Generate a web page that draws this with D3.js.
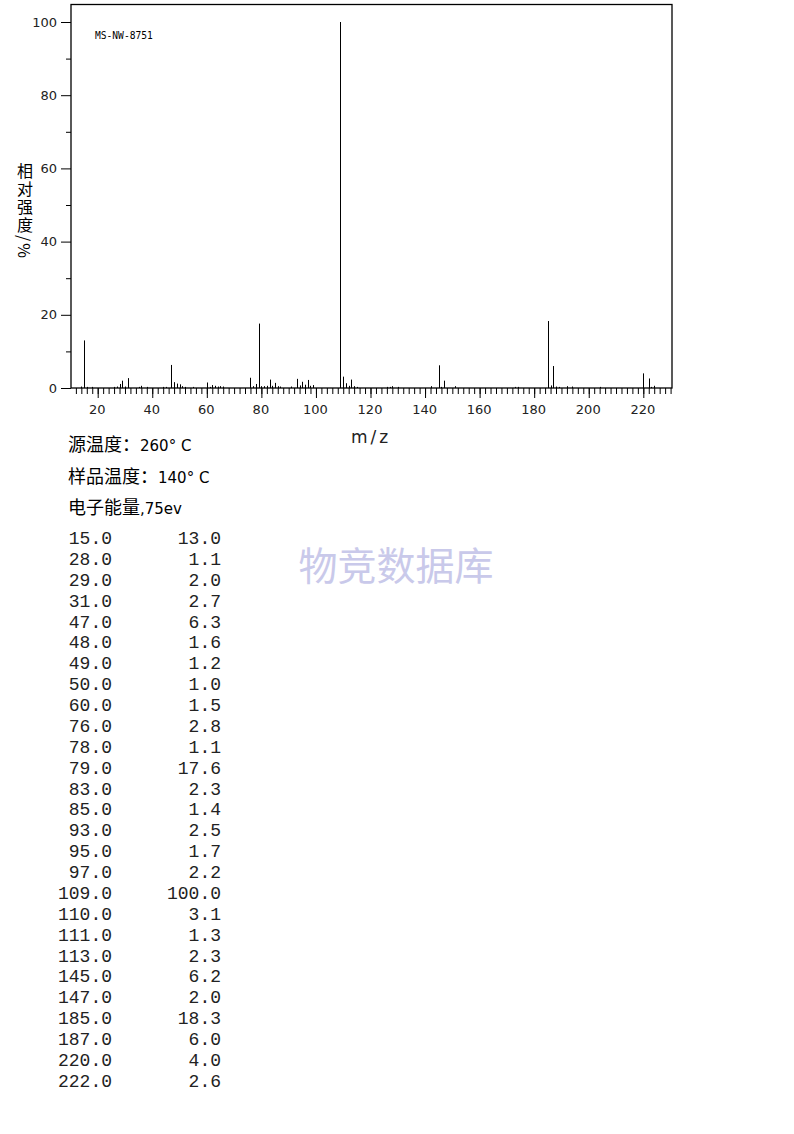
<!DOCTYPE html>
<html><head><meta charset="utf-8">
<script src="https://cdn.jsdelivr.net/npm/d3@7"></script>
<style>
body{margin:0;background:#fff;}
svg{display:block;}
</style></head>
<body>
<script>
// Spectrum peaks (m/z and relative intensity %)
const peakMz  = [14,15,16,18,26,27,28,29,30,31,35,36,38,44,45,47,48,49,50,51,52,55,60,61,62,63,64,65,66,
  76,77,78,79,80,81,82,83,84,85,86,87,91,93,94,95,96,97,98,99,
  109,110,111,112,113,114,115,126,127,128,130,142,145,146,147,151,173,174,
  185,186,187,188,189,192,194,204,220,222,223,224];
const peakInt = [0.4,13.0,0.3,0.3,0.3,0.4,1.1,2.0,0.4,2.7,0.3,0.6,0.3,0.3,0.3,6.3,1.6,1.2,1.0,0.5,0.3,0.3,1.5,0.3,0.8,0.6,0.4,0.5,0.4,
  2.8,0.5,1.1,17.6,0.5,0.5,0.6,2.3,0.6,1.4,0.5,0.4,0.4,2.5,0.7,1.7,0.9,2.2,0.6,0.8,
  100.0,3.1,1.3,0.6,2.3,0.5,0.3,0.3,0.3,0.5,0.3,0.5,6.2,0.3,2.0,0.5,0.3,0.3,
  18.3,0.7,6.0,0.4,0.3,0.5,0.4,0.3,4.0,2.6,0.3,0.6];

// Listed peaks table
const tableMz  = ["15.0","28.0","29.0","31.0","47.0","48.0","49.0","50.0","60.0","76.0","78.0","79.0","83.0","85.0",
  "93.0","95.0","97.0","109.0","110.0","111.0","113.0","145.0","147.0","185.0","187.0","220.0","222.0"];
const tableInt = ["13.0","1.1","2.0","2.7","6.3","1.6","1.2","1.0","1.5","2.8","1.1","17.6","2.3","1.4",
  "2.5","1.7","2.2","100.0","3.1","1.3","2.3","6.2","2.0","18.3","6.0","4.0","2.6"];

const xMajorTicks = [20,40,60,80,100,120,140,160,180,200,220];
const yMajorTicks = [0,20,40,60,80,100];
const yMinorTicks = [10,30,50,70,90];
// info lines: [CJK prefix, Latin suffix]
const infoLines = [["源温度：","260° C"],["样品温度：","140° C"],["电子能量",",75ev"]];
const sampleId = "MS-NW-8751";
const yLabel = "相对强度/%";
const xLabel = "m/z";
const watermark = "物竞数据库";

const W=794,H=1134;
const svg=d3.select("body").append("svg").attr("width",W).attr("height",H);

const L=71,R=672,T=4.5,B=388;
const x=d3.scaleLinear().domain([20,220]).range([97.7,643.3]);
const y=d3.scaleLinear().domain([0,100]).range([B,22]);

// watermark
svg.append("text").attr("x",396).attr("y",580).attr("text-anchor","middle")
  .attr("font-family","'Noto Sans CJK SC'").attr("font-size",39).attr("fill","#c9c9ea")
  .text(watermark);

// frame
svg.append("rect").attr("x",L).attr("y",T).attr("width",R-L).attr("height",B-T)
  .attr("fill","none").attr("stroke","#000").attr("stroke-width",1.3);

// x axis
const gxMinor=svg.append("g").attr("transform",`translate(0,${B})`)
  .call(d3.axisBottom(x).tickValues(d3.range(12,231,2)).tickSize(6).tickFormat(""));
const gx=svg.append("g").attr("transform",`translate(0,${B})`)
  .call(d3.axisBottom(x).tickValues(xMajorTicks).tickSize(10).tickPadding(7));
[gxMinor,gx].forEach(g=>{g.select(".domain").remove();g.selectAll("line").attr("stroke","#000");});
gx.selectAll("text").attr("font-family","'DejaVu Sans'").attr("font-size",13).attr("fill","#222").attr("dx",-1);

// y axis
const gyMinor=svg.append("g").attr("transform",`translate(${L},0)`)
  .call(d3.axisLeft(y).tickValues(yMinorTicks).tickSize(5).tickFormat(""));
const gy=svg.append("g").attr("transform",`translate(${L},0)`)
  .call(d3.axisLeft(y).tickValues(yMajorTicks).tickSize(10).tickPadding(4));
[gyMinor,gy].forEach(g=>{g.select(".domain").remove();g.selectAll("line").attr("stroke","#000");});
gy.selectAll("text").attr("font-family","'DejaVu Sans'").attr("font-size",13).attr("fill","#222");

// bars
svg.append("g").selectAll("line").data(peakMz.map((m,i)=>({m,v:peakInt[i]}))).join("line")
  .attr("x1",d=>Math.round(x(d.m))+0.5).attr("x2",d=>Math.round(x(d.m))+0.5)
  .attr("y1",y(0)).attr("y2",d=>y(d.v))
  .attr("stroke","#000").attr("stroke-width",1);

// sample id
svg.append("text").attr("x",95).attr("y",39).attr("font-family","'DejaVu Sans Mono'")
  .attr("font-size",9.6).attr("fill","#000").text(sampleId);

// y label (vertical writing)
svg.append("text").attr("x",25).attr("y",163)
  .attr("font-family","'Noto Sans CJK SC'").attr("font-size",16).attr("fill","#000")
  .attr("letter-spacing",2)
  .style("writing-mode","vertical-rl").style("text-orientation","mixed")
  .text(yLabel);

// x label
svg.append("text").attr("x",371).attr("y",443).attr("text-anchor","middle")
  .attr("font-family","'DejaVu Sans'").attr("font-size",17).attr("letter-spacing",3).attr("fill","#222").text(xLabel);

// info lines
infoLines.forEach((t,i)=>{
  const tx=svg.append("text").attr("x",68).attr("y",451+i*31.5).attr("font-family","'Noto Sans CJK SC'")
    .attr("font-size",18).attr("fill","#000");
  tx.append("tspan").text(t[0]);
  tx.append("tspan").attr("font-family","'DejaVu Sans'").attr("font-size",15).text(t[1]);
});

// table
const tg=svg.append("g").attr("font-family","'Liberation Mono'").attr("font-size",18).attr("fill","#222");
tableMz.forEach((m,i)=>{
  const yy=544+i*20.88;
  tg.append("text").attr("x",112).attr("y",yy).attr("text-anchor","end").text(m);
  tg.append("text").attr("x",221).attr("y",yy).attr("text-anchor","end").text(tableInt[i]);
});
</script>
</body></html>
